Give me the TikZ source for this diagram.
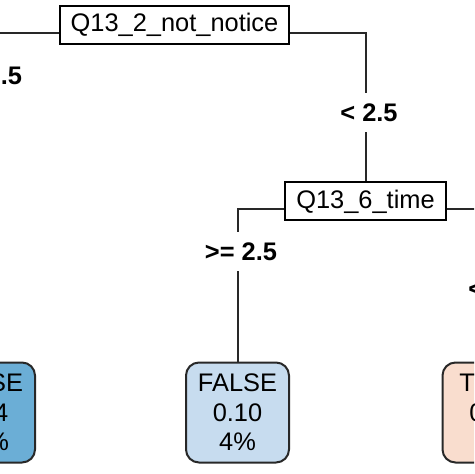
\documentclass[tikz,border=0pt]{standalone}
\usepackage{fontspec}
\setmainfont{Liberation Sans}
\usetikzlibrary{positioning}
\definecolor{leafblue}{RGB}{107,174,214}
\definecolor{leafpale}{RGB}{199,220,239}
\definecolor{leafpeach}{RGB}{249,221,206}
\definecolor{edgegray}{RGB}{40,40,40}
\tikzset{
split/.style={draw,rectangle,line width=1pt,minimum height=19pt,inner xsep=5.5pt,fill=white,font=\fontsize{12.7}{14.75}\selectfont},
leaf/.style={draw=edgegray,rounded corners=6.5pt,line width=1pt,minimum width=51.5pt,minimum height=50pt,align=center,font=\fontsize{12.7}{14.75}\selectfont},
branch/.style={line width=1pt,edgegray},
cond/.style={fill=white,minimum height=19.5pt,inner xsep=1pt,font=\bfseries\fontsize{12.7}{14.75}\selectfont}
}
\begin{document}
\begin{tikzpicture}[x=0.5pt,y=-0.5pt]
\useasboundingbox (0,0) rectangle (474,474);
\fill[white] (0,0) rectangle (474,474);
\clip (0,0) rectangle (474,474);
\node[split] (root) at (174.5,25) {Q13\_2\_not\_notice};
\node[split] (time) at (365.5,201.5) {Q13\_6\_time};
\node[leaf,fill=leafblue] (leafL) at (-16.5,412.5) {FALSE\\0.04\\51\%};
\node[leaf,fill=leafpale] (leafM) at (237.5,412.5) {FALSE\\0.10\\4\%};
\node[leaf,fill=leafpeach] (leafR) at (494,412.5) {TRUE\\0.71\\1\%};
\draw[branch] ([yshift=-4pt]root.west) -| (leafL.north);
\draw[branch] ([yshift=-4pt]root.east) -| (time.north);
\draw[branch] ([yshift=-4pt]time.west) -| (leafM.north);
\draw[branch] ([yshift=-4pt]time.east) -| (leafR.north);
\node[cond] (rootL) at (-14,76) {>= 2.5};
\node[cond] (rootR) at (369,113) {< 2.5};
\node[cond] (timeL) at (241,251.5) {>= 2.5};
\node[cond] (timeR) at (497,289) {< 2.5};
\end{tikzpicture}
\end{document}
